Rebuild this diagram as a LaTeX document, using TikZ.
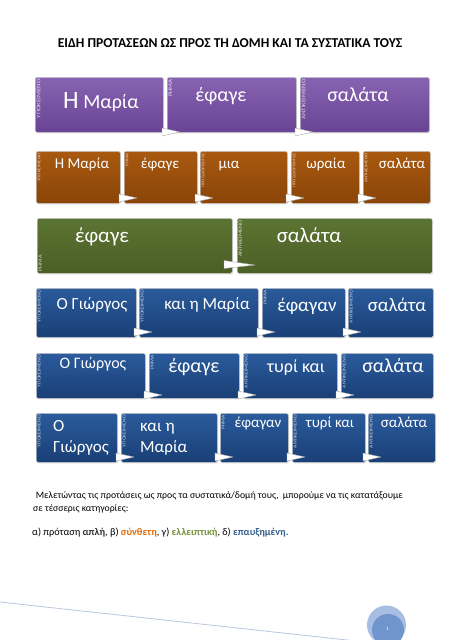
\documentclass[tikz,border=0pt]{standalone}
\usepackage{fontspec}
\setmainfont{Carlito}
\usetikzlibrary{calc,shadows}
\definecolor{pT}{HTML}{8763B2}
\definecolor{pB}{HTML}{6A4494}
\definecolor{oT}{HTML}{A8590F}
\definecolor{oB}{HTML}{8A4508}
\definecolor{gT}{HTML}{5C7433}
\definecolor{gB}{HTML}{4A5F25}
\definecolor{bT}{HTML}{2B5B9C}
\definecolor{bB}{HTML}{193F76}
\definecolor{cOr}{HTML}{E36C0A}
\definecolor{cGr}{HTML}{76923C}
\definecolor{cBl}{HTML}{365F91}
\definecolor{lineC}{HTML}{B9C8DE}
\definecolor{ringC}{HTML}{A7BEE2}
\definecolor{discC}{HTML}{6F95CC}
\newcommand\blkbox[6]{%
  \pgfmathsetmacro\bw{#5-#3}\pgfmathsetmacro\bh{#6-#4}%
  \node[#2, minimum width=\bw pt, minimum height=\bh pt] (#1) at (#3,#4) {};}
\newcommand\tri[2]{\filldraw[trishape, shift={(#1.south west)}] (-5,{-8.5+#2}) -- (-5,{-0.5+#2}) -- (13,{-4.5+#2}) -- cycle;}
\tikzset{
  blk/.style={rectangle, rounded corners=1.5pt, inner sep=0pt, anchor=north west,
    draw=white!55!gray, line width=0.5pt,
    drop shadow={opacity=0.25, shadow xshift=0.8pt, shadow yshift=-1.2pt}},
  pbox/.style={blk, top color=pT, bottom color=pB},
  obox/.style={blk, top color=oT, bottom color=oB},
  gbox/.style={blk, top color=gT, bottom color=gB},
  bbox/.style={blk, top color=bT, bottom color=bB},
  lab/.style={rotate=90, inner sep=0pt, text=white, text opacity=0.75},
  txt/.style={inner sep=0pt, text=white, anchor=base},
  trishape/.style={fill=white, draw=black!35, line width=0.4pt, line join=round},
}
\newcommand\lbl[3]{\scalebox{1.25}[1]{\fontsize{#1}{#1}\selectfont #2}}
\begin{document}
\begin{tikzpicture}[x=1pt,y=-1pt]
\useasboundingbox (0,0) rectangle (453,640);
\fill[white] (0,0) rectangle (453,640);
% title
\node[inner sep=0pt, font=\bfseries\fontsize{13.6}{15}\selectfont] (title) at (230,43) {ΕΙΔΗ ΠΡΟΤΑΣΕΩΝ ΩΣ ΠΡΟΣ ΤΗ ΔΟΜΗ ΚΑΙ ΤΑ ΣΥΣΤΑΤΙΚΑ ΤΟΥΣ};
% ---- row 1
\blkbox{a1}{pbox}{35}{77}{163}{132}
\blkbox{a2}{pbox}{167}{77}{296}{132}
\blkbox{a3}{pbox}{300}{77}{429}{132}
\node[lab, anchor=north east] (la1) at ($(a1.north west)+(1.5,2)$) {\lbl{5.5}{ΥΠΟΚΕΙΜΕΝΟ}{}};
\node[lab, anchor=north east] (la2) at ($(a2.north west)+(1.5,2)$) {\lbl{5.5}{ΡΗΜΑ}{}};
\node[lab, anchor=north east] (la3) at ($(a3.north west)+(1.5,2)$) {\lbl{5.5}{ΑΝΤΙΚΕΙΜΕΝΟ}{}};
\node[txt, font=\fontsize{20}{24}\selectfont] (ta1) at (101,108) {{\fontsize{25}{25}\selectfont Η} Μαρία};
\node[txt, font=\fontsize{20}{24}\selectfont] (ta2) at (221,101) {έφαγε};
\node[txt, font=\fontsize{20}{24}\selectfont] (ta3) at (358,101) {σαλάτα};
\tri{a2}{4}\tri{a3}{4}
% ---- row 2
\blkbox{b1}{obox}{36}{151}{120}{203}
\blkbox{b2}{obox}{124}{151}{197}{203}
\blkbox{b3}{obox}{200}{151}{287}{203}
\blkbox{b4}{obox}{291}{151}{359}{203}
\blkbox{b5}{obox}{363}{151}{430}{203}
\node[lab, anchor=north east] (lb1) at ($(b1.north west)+(1.5,2)$) {\lbl{4}{ΥΠΟΚΕΙΜΕΝΟ}{}};
\node[lab, anchor=north east] (lb2) at ($(b2.north west)+(1.5,2)$) {\lbl{4}{ΡΗΜΑ}{}};
\node[lab, anchor=north east] (lb3) at ($(b3.north west)+(1.5,2)$) {\lbl{4}{ΠΡΟΣΔΙΟΡΙΣΜΟΣ}{}};
\node[lab, anchor=north east] (lb4) at ($(b4.north west)+(1.5,2)$) {\lbl{4}{ΠΡΟΣΔΙΟΡΙΣΜΟΣ}{}};
\node[lab, anchor=north east] (lb5) at ($(b5.north west)+(1.5,2)$) {\lbl{4}{ΑΝΤΙΚΕΙΜΕΝΟ}{}};
\node[txt, font=\fontsize{15}{18}\selectfont] (tb1) at (82,168) {Η Μαρία};
\node[txt, font=\fontsize{15}{18}\selectfont] (tb2) at (160,168) {έφαγε};
\node[txt, font=\fontsize{15}{18}\selectfont] (tb3) at (229,168) {μια};
\node[txt, font=\fontsize{15}{18}\selectfont] (tb4) at (326,168) {ωραία};
\node[txt, font=\fontsize{15}{18}\selectfont] (tb5) at (402,168) {σαλάτα};
\tri{b2}{-1}\tri{b3}{-1}\tri{b4}{-1}\tri{b5}{-1}
% ---- row 3
\blkbox{c1}{gbox}{37}{218}{232}{273}
\blkbox{c2}{gbox}{237}{218}{432}{273}
\node[lab, anchor=north west] (lc1) at ($(c1.south west)+(1.5,-2)$) {\lbl{5}{ΡΗΜΑ}{}};
\node[lab, anchor=north east] (lc2) at ($(c2.north west)+(1.5,2)$) {\lbl{5}{ΑΝΤΙΚΕΙΜΕΝΟ}{}};
\node[txt, font=\fontsize{21}{24}\selectfont] (tc1) at (102,242) {έφαγε};
\node[txt, font=\fontsize{21}{24}\selectfont] (tc2) at (309,242) {σαλάτα};
\filldraw[trishape, shift={(c2.south west)}] (-13,-13) -- (-13,-5) -- (18,-8.5) -- cycle;
% ---- row 4
\blkbox{d1}{bbox}{36}{288}{136}{337}
\blkbox{d2}{bbox}{139}{288}{258}{337}
\blkbox{d3}{bbox}{262}{288}{345}{337}
\blkbox{d4}{bbox}{348}{288}{433}{337}
\node[lab, anchor=north east] (ld1) at ($(d1.north west)+(1.5,2)$) {\lbl{4.5}{ΥΠΟΚΕΙΜΕΝΟ}{}};
\node[lab, anchor=north east] (ld2) at ($(d2.north west)+(1.5,2)$) {\lbl{4.5}{ΥΠΟΚΕΙΜΕΝΟ}{}};
\node[lab, anchor=north east] (ld3) at ($(d3.north west)+(1.5,2)$) {\lbl{4.5}{ΡΗΜΑ}{}};
\node[lab, anchor=north east] (ld4) at ($(d4.north west)+(1.5,2)$) {\lbl{4.5}{ΑΝΤΙΚΕΙΜΕΝΟ}{}};
\node[txt, font=\fontsize{17}{20}\selectfont] (td1) at (92,309) {Ο Γιώργος};
\node[txt, font=\fontsize{17}{20}\selectfont] (td2) at (207,309) {και η Μαρία};
\node[txt, font=\fontsize{19}{22}\selectfont] (td3) at (307,311) {έφαγαν};
\node[txt, font=\fontsize{19}{22}\selectfont] (td4) at (397,311) {σαλάτα};
\tri{d2}{-1}\tri{d3}{-1}\tri{d4}{-1}
% ---- row 5
\blkbox{e1}{bbox}{36}{353}{145}{398}
\blkbox{e2}{bbox}{149}{353}{239}{398}
\blkbox{e3}{bbox}{243}{353}{337}{398}
\blkbox{e4}{bbox}{341}{353}{433}{398}
\node[lab, anchor=north east] (le1) at ($(e1.north west)+(1.5,2)$) {\lbl{4.5}{ΥΠΟΚΕΙΜΕΝΟ}{}};
\node[lab, anchor=north east] (le2) at ($(e2.north west)+(1.5,2)$) {\lbl{4.5}{ΡΗΜΑ}{}};
\node[lab, anchor=north east] (le3) at ($(e3.north west)+(1.5,2)$) {\lbl{4.5}{ΑΝΤΙΚΕΙΜΕΝΟ}{}};
\node[lab, anchor=north east] (le4) at ($(e4.north west)+(1.5,2)$) {\lbl{4.5}{ΑΝΤΙΚΕΙΜΕΝΟ}{}};
\node[txt, font=\fontsize{16}{19}\selectfont] (te1) at (93,368) {Ο Γιώργος};
\node[txt, font=\fontsize{20}{23}\selectfont] (te2) at (194,372) {έφαγε};
\node[txt, font=\fontsize{18}{21}\selectfont] (te3) at (296,372) {τυρί και};
\node[txt, font=\fontsize{20}{23}\selectfont] (te4) at (393,372) {σαλάτα};
\tri{e2}{1}\tri{e3}{1}\tri{e4}{1}
% ---- row 6
\blkbox{f1}{bbox}{36}{413}{117}{462}
\blkbox{f2}{bbox}{121}{413}{217}{462}
\blkbox{f3}{bbox}{220}{413}{288}{462}
\blkbox{f4}{bbox}{292}{413}{365}{462}
\blkbox{f5}{bbox}{368}{413}{435}{462}
\node[lab, anchor=north east] (lf1) at ($(f1.north west)+(1.5,2)$) {\lbl{4.5}{ΥΠΟΚΕΙΜΕΝΟ}{}};
\node[lab, anchor=north east] (lf2) at ($(f2.north west)+(1.5,2)$) {\lbl{4.5}{ΥΠΟΚΕΙΜΕΝΟ}{}};
\node[lab, anchor=north east] (lf3) at ($(f3.north west)+(1.5,2)$) {\lbl{4.5}{ΡΗΜΑ}{}};
\node[lab, anchor=north east] (lf4) at ($(f4.north west)+(1.5,2)$) {\lbl{4.5}{ΑΝΤΙΚΕΙΜΕΝΟ}{}};
\node[lab, anchor=north east] (lf5) at ($(f5.north west)+(1.5,2)$) {\lbl{4.5}{ΑΝΤΙΚΕΙΜΕΝΟ}{}};
\node[txt, font=\fontsize{17}{21}\selectfont, align=left, anchor=base west] (tf1) at (53,452) {Ο\\Γιώργος};
\node[txt, font=\fontsize{17}{21}\selectfont, align=left, anchor=base west] (tf2) at (140,452) {και η\\Μαρία};
\node[txt, font=\fontsize{15}{18}\selectfont] (tf3) at (258,427) {έφαγαν};
\node[txt, font=\fontsize{15}{18}\selectfont] (tf4) at (330,427) {τυρί και};
\node[txt, font=\fontsize{15}{18}\selectfont] (tf5) at (404,427) {σαλάτα};
\tri{f2}{-1}\tri{f3}{-1}\tri{f4}{-1}\tri{f5}{-1}
% ---- text
\node[inner sep=0pt, anchor=base west, font=\fontsize{9.75}{13}\selectfont] (p1) at (33.5,498) {\ Μελετώντας τις προτάσεις ως προς τα συστατικά/δομή τους,\ \ μπορούμε να τις κατατάξουμε};
\node[inner sep=0pt, anchor=base west, font=\fontsize{9.75}{13}\selectfont] (p2) at (33,511) {σε τέσσερις κατηγορίες:};
\node[inner sep=0pt, anchor=base west, font=\fontsize{10.25}{13}\selectfont] (p3) at (32,535) {α) πρόταση \textbf{\textcolor{black!80}{απλή}}, β) \textbf{\textcolor{cOr}{σύνθετη}}, γ) \textbf{\textcolor{cGr}{ελλειπτική}}, δ) \textbf{\textcolor{cBl}{επαυξημένη.}}};
% ---- footer
\coordinate (ls) at (0,602);
\coordinate (le) at (356,641);
\draw[lineC, line width=0.8pt] (ls) -- (le);
\fill[ringC] (386.5,625) circle (19.5);
\fill[discC] (388,630) circle (16);
\node[text=white, inner sep=0pt, font=\fontsize{5}{5}\selectfont] (pg) at (387.5,629) {1};
\end{tikzpicture}
\end{document}
